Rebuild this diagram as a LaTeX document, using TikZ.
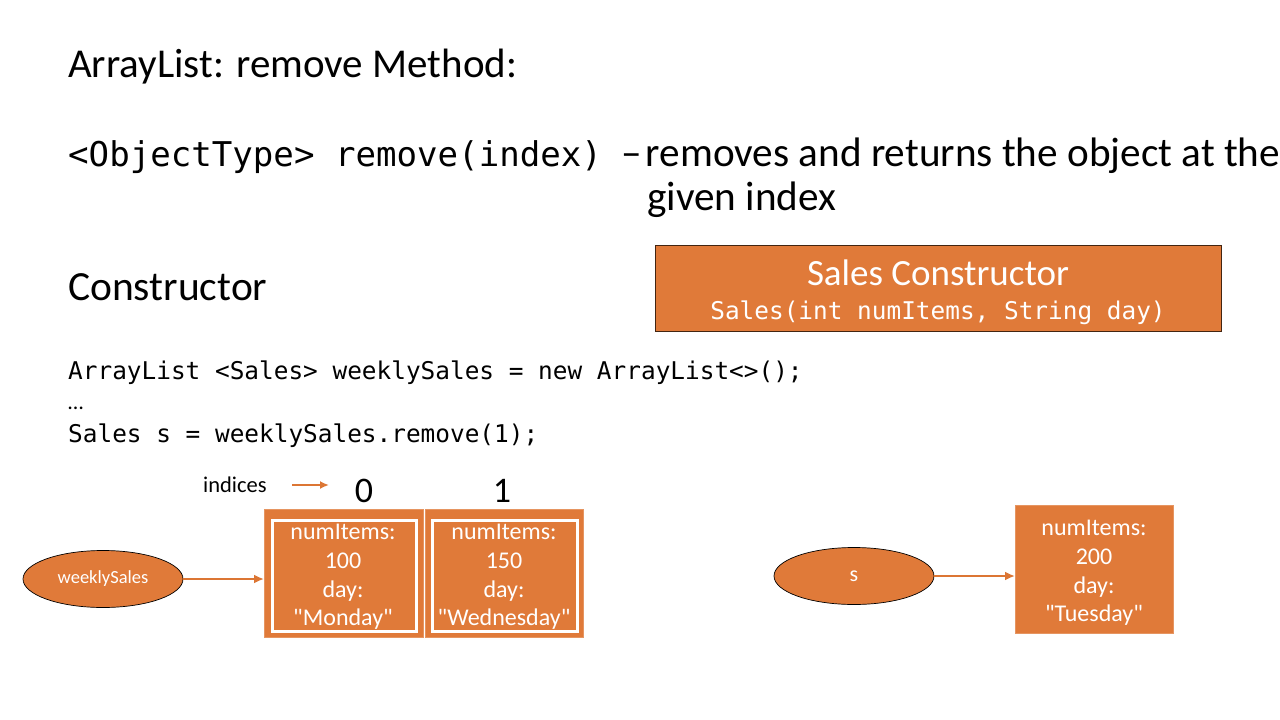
\documentclass[tikz,border=0pt]{standalone}
\usepackage{fontspec}
\setmainfont{Carlito}[Ligatures=TeXOff]
\setsansfont{Carlito}[Ligatures=TeXOff]
\setmonofont{DejaVu Sans Mono}
\usetikzlibrary{shapes.geometric,arrows.meta}
\definecolor{orng}{RGB}{224,122,57}
\definecolor{arr}{RGB}{220,118,52}
\tikzset{
  txt/.style={anchor=base west,inner sep=0pt,text=black},
  code/.style={anchor=base west,inner sep=0pt,text=black,font=\fontsize{24.4}{28}\selectfont\ttfamily},
  obj/.style={fill=orng,draw=orng!80!white,line width=0.6pt,minimum width=#1,minimum height=128pt,inner sep=0pt,anchor=north west},
  inner/.style={draw=white,line width=3pt},
  ftxt/.style={text=white,font=\fontsize{24}{28.7}\selectfont,align=center,inner sep=0pt},
  ref/.style={ellipse,fill=orng,draw=black,line width=0.7pt,minimum width=160pt,minimum height=57pt,inner sep=0pt,text=white},
  conn/.style={draw=arr,line width=2pt,-{Latex[length=10pt,width=9pt]}},
}
\begin{document}
\begin{tikzpicture}[x=1pt,y=-1pt]
\useasboundingbox (0,0) rectangle (1280,720);
\fill[white] (0,0) rectangle (1280,720);

% title and description
\node[txt,font=\fontsize{41}{48}\selectfont] (title) at (68,77) {ArrayList: remove Method:};
\node[txt,font=\fontsize{34.1}{40}\selectfont\ttfamily] (sig) at (68,166) {<ObjectType> remove(index)};
\node[txt,font=\fontsize{41.2}{48}\selectfont] (desc) at (621,166) {–\hspace{0.1em}removes and returns the object at the};
\node[txt,font=\fontsize{41.2}{48}\selectfont] (desc2) at (647,210) {given index};
\node[txt,font=\fontsize{41.5}{48}\selectfont] (ctor) at (68,300) {Constructor};

% constructor box
\node[fill=orng,draw=black!70!orng,line width=0.8pt,minimum width=566pt,minimum height=86pt,anchor=north west,inner sep=0pt] (cbox) at (655,245) {};
\node[text=white,inner sep=0pt,anchor=base,font=\fontsize{37}{44}\selectfont] (ctitle) at (938,285) {Sales Constructor};
\node[text=white,inner sep=0pt,anchor=base,font=\fontsize{24.4}{28}\selectfont\ttfamily] (csig) at (938,319) {Sales(int numItems, String day)};

% code
\node[code] (c1) at (68,379) {ArrayList <Sales> weeklySales = new ArrayList<>();};
\node[txt,font=\fontsize{22}{26}\selectfont] (c2) at (68,409) {…};
\node[code] (c3) at (68,442) {Sales s = weeklySales.remove(1);};

% indices
\node[txt,font=\fontsize{22.5}{26}\selectfont] (ind) at (203,492) {indices};
\coordinate (ia) at (292,485);
\coordinate (ib) at (329,485);
\draw[draw=arr,line width=2pt,-{Latex[length=9pt,width=8pt]}] (ia) -- (ib);
\node[inner sep=0pt,anchor=base,font=\fontsize{36}{40}\selectfont] (i0) at (364,502) {0};
\node[inner sep=0pt,anchor=base,font=\fontsize{36}{40}\selectfont] (i1) at (502,502) {1};

% array boxes
\node[obj=159pt] (b0) at (264,509) {};
\node[obj=158pt] (b1) at (425,509) {};
\draw[inner] (272,520) rectangle (416,631);
\draw[inner] (432,520) rectangle (577,631);
\node[ftxt,anchor=north] (t0) at (343,524) {numItems:\\100\\day:\\"Monday"};
\node[ftxt,anchor=north] (t1) at (504,524) {numItems:\\150\\day:\\"Wednesday"};

% removed object
\node[obj=158pt] (b2) at (1015,505) {};
\node[ftxt,anchor=north] (t2) at (1094,520) {numItems:\\200\\day:\\"Tuesday"};

% references
\node[ref,font=\fontsize{18.5}{22}\selectfont] (ws) at (103,579) {weeklySales};
\node[ref,font=\fontsize{22}{24}\selectfont] (s) at (854,576) {s};
\draw[conn] (ws.east) -- (ws.east -| b0.west);
\draw[conn] (s.east) -- (s.east -| b2.west);
\end{tikzpicture}
\end{document}
